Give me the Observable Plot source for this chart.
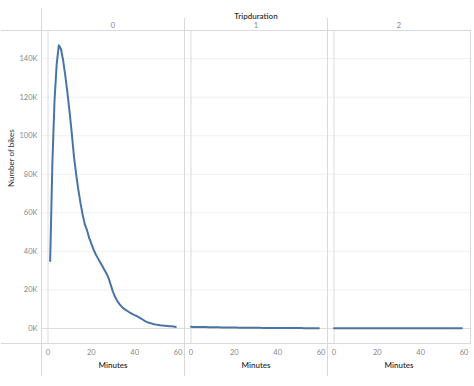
<!DOCTYPE html>
<html>
<head>
<meta charset="utf-8">
<script src="https://cdn.jsdelivr.net/npm/d3@7"></script>
<script src="https://cdn.jsdelivr.net/npm/@observablehq/plot@0.6"></script>
<style>
  html, body { margin: 0; padding: 0; background: #fff; }
</style>
</head>
<body>
<div id="chart"></div>
<script>
// Facets: trip duration in hours
const hours = [0, 1, 2];
// first minute shown in each facet
const startMinute = [1, 0, 0];
// Number of bikes (thousands) per minute, hour 0 (minutes 1..59)
const bikesH0 = [35, 85, 118, 137, 147, 145, 139, 131, 122, 112,
  101, 89, 80, 72, 65, 59, 54, 51, 47, 44,
  41, 38.5, 36.5, 34.5, 32.5, 30.5, 28.5, 26, 22.5, 19,
  16.3, 14.2, 12.6, 11.3, 10.3, 9.5, 8.8, 8.1, 7.4, 6.9,
  6.4, 5.8, 5.1, 4.4, 3.7, 3.2, 2.8, 2.5, 2.2, 2.0,
  1.8, 1.6, 1.5, 1.4, 1.3, 1.2, 1.1, 1.0, 0.8];
// hour 1 (minutes 0..59)
const bikesH1 = [0.85, 0.82, 0.8, 0.78, 0.76, 0.74, 0.72, 0.7, 0.68, 0.66,
  0.64, 0.62, 0.6, 0.58, 0.56, 0.54, 0.52, 0.5, 0.48, 0.47,
  0.45, 0.44, 0.42, 0.41, 0.4, 0.38, 0.37, 0.36, 0.35, 0.34,
  0.33, 0.32, 0.31, 0.3, 0.29, 0.28, 0.27, 0.27, 0.26, 0.25,
  0.24, 0.24, 0.23, 0.22, 0.22, 0.21, 0.2, 0.2, 0.19, 0.19,
  0.18, 0.18, 0.17, 0.17, 0.16, 0.16, 0.15, 0.15, 0.14, 0.14];
// hour 2 (minutes 0..59)
const bikesH2 = [0.13, 0.13, 0.13, 0.12, 0.12, 0.12, 0.12, 0.12, 0.11, 0.11,
  0.11, 0.11, 0.11, 0.11, 0.1, 0.1, 0.1, 0.1, 0.1, 0.1,
  0.1, 0.1, 0.1, 0.09, 0.09, 0.09, 0.09, 0.09, 0.09, 0.09,
  0.09, 0.09, 0.09, 0.08, 0.08, 0.08, 0.08, 0.08, 0.08, 0.08,
  0.08, 0.08, 0.08, 0.08, 0.08, 0.07, 0.07, 0.07, 0.07, 0.07,
  0.07, 0.07, 0.07, 0.07, 0.07, 0.07, 0.07, 0.07, 0.07, 0.07];
const xTicks = [0, 20, 40, 60];
const yTicks = [0, 20000, 40000, 60000, 80000, 100000, 120000, 140000];
const xDomain = [-3, 63];
const yDomain = [-7800, 154600];

const series = [bikesH0, bikesH1, bikesH2];
const data = hours.flatMap((h, k) =>
  series[k].map((v, i) => ({hour: h, minute: startMinute[k] + i, bikes: v * 1000})));

const sep = "#d9d9d9";
const chart = Plot.plot({
  width: 474,
  height: 386,
  marginLeft: 40,
  marginRight: 3,
  marginTop: 30,
  marginBottom: 43,
  style: {fontFamily: "Lato, 'Open Sans', sans-serif", fontSize: "7.5px", color: "#888", background: "#fff"},
  fx: {domain: hours, padding: 0, axis: "top", tickSize: 0, tickPadding: 3, label: null},
  x: {domain: xDomain, ticks: xTicks, tickSize: 0, tickPadding: 6, label: null},
  y: {domain: yDomain, ticks: yTicks, tickSize: 0, tickPadding: 4, label: null,
      tickFormat: d => (d / 1000) + "K"},
  marks: [
    Plot.ruleY(yTicks, {stroke: "#efefef"}),
    Plot.ruleY([0], {stroke: "#dcdcdc"}),
    Plot.ruleX([0], {stroke: "#dcdcdc"}),
    Plot.frame({stroke: sep}),
    Plot.ruleX([xDomain[0]], {stroke: sep, insetTop: -12, insetBottom: -33}),
    Plot.ruleX([xDomain[0]], {fx: [0], stroke: sep, insetTop: -22, insetBottom: -33}),
    Plot.ruleY(yDomain, {fx: [0, 0], stroke: sep, insetLeft: -40}),
    Plot.lineY(data, {x: "minute", y: "bikes", fx: "hour", stroke: "#4a74a5", strokeWidth: 2}),
    Plot.text(["Tripduration"], {fx: [1], frameAnchor: "top", dy: -17, fill: "#333", fontSize: 8, fontWeight: 600}),
    Plot.text(hours, {fx: d => d, text: () => "Minutes", frameAnchor: "bottom", dy: 24, fill: "#333", fontSize: 8, fontWeight: 600}),
    Plot.text(["Number of bikes"], {fx: [0], frameAnchor: "left", dx: -30, rotate: -90, fill: "#333", fontSize: 8})
  ]
});
document.getElementById("chart").appendChild(chart);
</script>
</body>
</html>
